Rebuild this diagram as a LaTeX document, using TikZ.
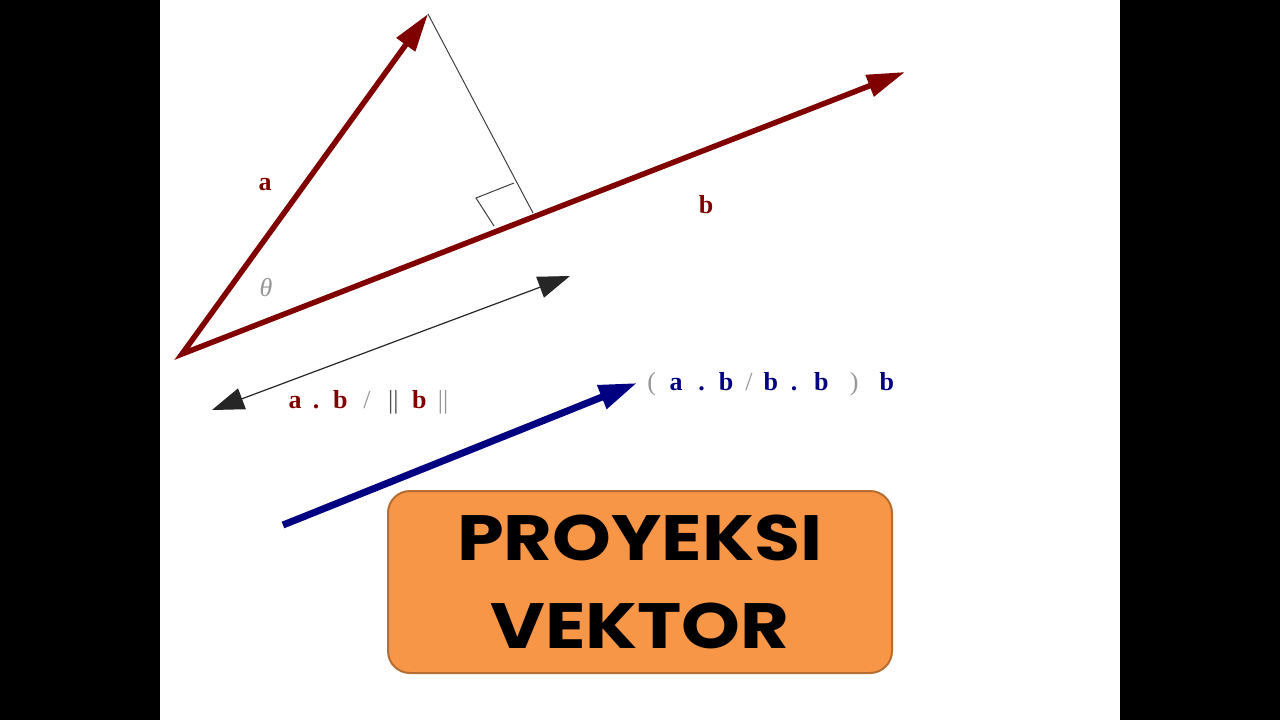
\documentclass[tikz,border=0pt]{standalone}
\usepackage{fontspec}
\setmainfont{Liberation Serif}
\newfontfamily\titlefont{Poppins}
\usetikzlibrary{arrows.meta}
\definecolor{vmaroon}{RGB}{128,0,0}
\definecolor{vnavy}{RGB}{0,0,128}
\definecolor{vgray}{RGB}{150,150,150}
\definecolor{boxfill}{RGB}{247,150,70}
\definecolor{boxedge}{RGB}{182,109,49}
\newcommand{\cell}[2]{\makebox[#1pt][c]{#2}}
\tikzset{
  vec/.style={draw=vmaroon, line width=5.5pt, line join=miter,
    {Triangle[length=38pt,width=22pt]}-{Triangle[length=38pt,width=22pt]}},
  projvec/.style={draw=vnavy, line width=7pt, -{Triangle[length=38pt,width=24pt]}},
  dimline/.style={draw=black!85, line width=1.2pt,
    {Triangle[length=32pt,width=22pt]}-{Triangle[length=32pt,width=22pt]}},
  thinline/.style={draw=black!75, line width=1pt},
  lab/.style={font=\fontsize{26}{28}\selectfont\bfseries, inner sep=0pt},
  titlebox/.style={draw=boxedge, line width=2pt, fill=boxfill, rounded corners=22pt,
    minimum width=504pt, minimum height=182pt, align=center,
    font=\titlefont\bfseries\fontsize{64}{88}\selectfont}
}
\begin{document}
\begin{tikzpicture}[x=1pt,y=-1pt]
\useasboundingbox (0,0) rectangle (1280,720);
\fill[black] (0,0) rectangle (160,720);
\fill[black] (1120,0) rectangle (1280,720);
\fill[white] (160,0) rectangle (1120,720);

\coordinate (O) at (182,354);
\coordinate (A) at (428,14);
\coordinate (B) at (905,72);
\coordinate (F) at (533,213);
\coordinate (R1) at (514,183);
\coordinate (R2) at (476,198);
\coordinate (R3) at (494,226);
\coordinate (D1) at (212,410);
\coordinate (D2) at (570,276);
\coordinate (P1) at (283,525);
\coordinate (P2) at (637,383);

\draw[thinline] (A) -- (F);
\draw[thinline] (R1) -- (R2) -- (R3);
\draw[vec] (A) -- (O) -- (B);
\draw[dimline] (D1) -- (D2);
\draw[projvec] (P1) -- (P2);

\node[lab, text=vmaroon, anchor=base] (la) at (265,190) {a};
\node[lab, text=vmaroon, anchor=base] (lb) at (706,213) {b};
\node[inner sep=0pt, text=vgray, font=\fontsize{26}{28}\selectfont\itshape] (lt) at (266,288) {θ};
\node[lab, anchor=base west] (ldot) at (285,408) {%
\cell{20}{\color{vmaroon}a}\cell{22}{\color{vmaroon}.}\cell{26.5}{\color{vmaroon}b}%
\cell{26.5}{\color{vgray}\mdseries /}\cell{26.5}{\color{black!70}\mdseries ||}%
\cell{25.5}{\color{vmaroon}b}\cell{22}{\color{vgray}\mdseries ||}};
\node[lab, anchor=base west] (lproj) at (640,390) {%
\cell{23}{\color{vgray}\mdseries (}\cell{26}{\color{vnavy}a}\cell{25}{\color{vnavy}.}%
\cell{24}{\color{vnavy}b}\cell{21.5}{\color{vgray}\mdseries /}\cell{22.5}{\color{vnavy}b}%
\cell{24}{\color{vnavy}.}\cell{30.5}{\color{vnavy}b}\cell{35}{\color{vgray}\mdseries )}%
\cell{30.5}{\color{vnavy}b}};

\node[titlebox] (title) at (640,582) {\scalebox{1.17}[1]{PROYEKSI}\\\scalebox{1.17}[1]{VEKTOR}};
\end{tikzpicture}
\end{document}
